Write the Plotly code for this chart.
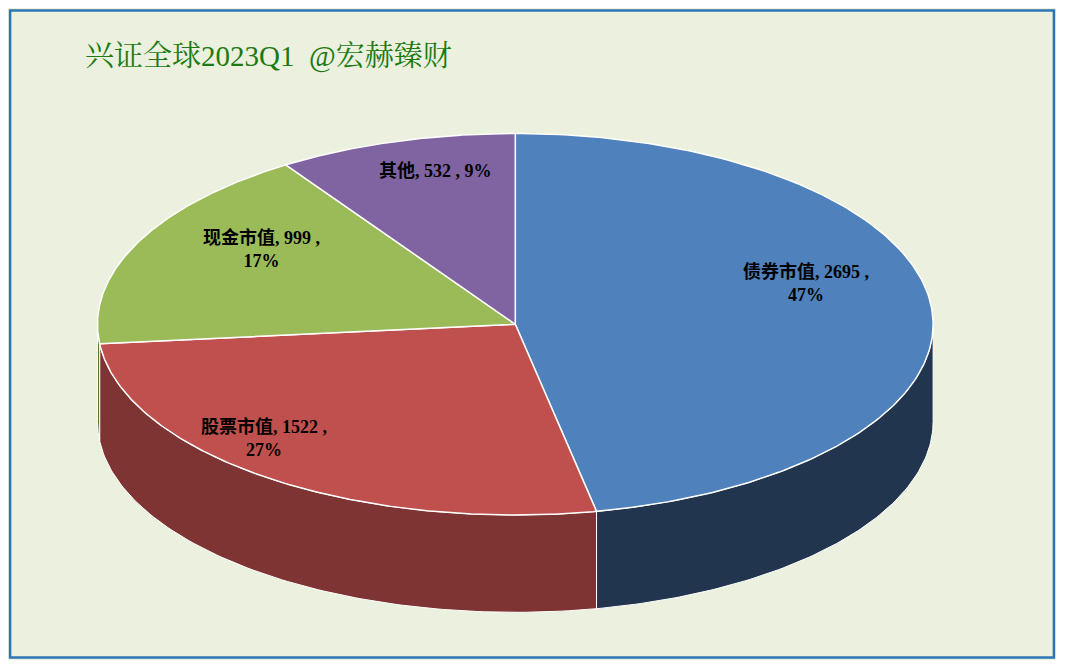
import numpy as np
import plotly.graph_objects as go

categories = ["债券市值", "股票市值", "现金市值", "其他"]
values = [2695, 1522, 999, 532]
percents = ["47%", "27%", "17%", "9%"]
top_colors = ["#4f81bd", "#c0504d", "#9bbb59", "#8064a2"]
side_colors = ["#22354f", "#7d3432", "#5d7036", "#4c3c61"]
label_pos = [(812, 283), (260, 442), (258, 248), (435, 167)]
label_text = ["债券市值, 2695 ,<br>47%", "股票市值, 1522 ,<br>27%", "现金市值, 999 ,<br>17%", "其他, 532 , 9%"]

W, H = 1066, 670
cx, cy, rx, ry, depth = 516, 670 - 325, 425, 196, 100

total = sum(values)
fig = go.Figure()
starts, ends = [], []
c = 0
for v in values:
    starts.append(90 - 360 * c / total)
    c += v
    ends.append(90 - 360 * c / total)

for i in range(len(values)):
    a0, a1 = max(ends[i], -180), min(starts[i], 0)
    if a1 <= a0:
        continue
    t = np.radians(np.linspace(a1, a0, 100))
    xs = cx + rx * np.cos(t)
    ys = cy + ry * np.sin(t)
    X = np.concatenate([xs, xs[::-1], [xs[0]]])
    Y = np.concatenate([ys, ys[::-1] - depth, [ys[0]]])
    fig.add_trace(go.Scatter(x=X, y=Y, fill="toself", fillcolor=side_colors[i], mode="lines",
                             line=dict(color="white", width=1), hoverinfo="skip", showlegend=False))
for i in range(len(values)):
    t = np.radians(np.linspace(starts[i], ends[i], 200))
    X = np.concatenate([[cx], cx + rx * np.cos(t), [cx]])
    Y = np.concatenate([[cy], cy + ry * np.sin(t), [cy]])
    fig.add_trace(go.Scatter(x=X, y=Y, fill="toself", fillcolor=top_colors[i], mode="lines",
                             line=dict(color="white", width=1.5), hoverinfo="skip", showlegend=False))

for (px, py), txt in zip(label_pos, label_text):
    fig.add_annotation(x=px, y=H - py, text="<b>" + txt + "</b>", showarrow=False,
                       font=dict(size=18, color="black", family="Liberation Serif, Noto Sans CJK SC"))

fig.add_annotation(x=76, y=H - 50, xanchor="left", text="兴证全球2023Q1  @宏赫臻财", showarrow=False,
                   font=dict(size=29, color="#1d7a12", family="Liberation Serif, Noto Serif CJK SC, Noto Sans CJK SC"))

fig.add_shape(type="rect", xref="paper", yref="paper", x0=0.002, y0=0.004, x1=0.998, y1=0.996,
              line=dict(color="#2e75b6", width=2.5))

fig.update_layout(width=1048, height=652, margin=dict(l=0, r=0, t=0, b=0),
                  paper_bgcolor="#ebf1de", plot_bgcolor="#ebf1de",
                  xaxis=dict(range=[0, W], visible=False, fixedrange=True),
                  yaxis=dict(range=[0, H], visible=False, fixedrange=True))
fig.write_html("out.html")
